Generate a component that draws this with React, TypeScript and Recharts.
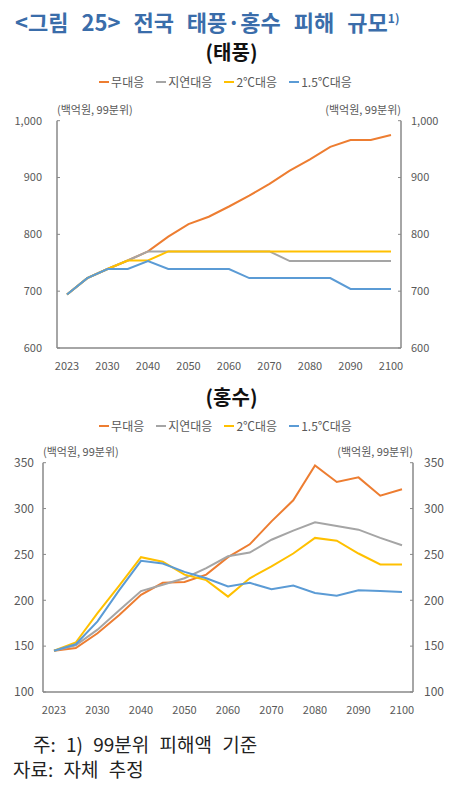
import React from 'react';
import { LineChart, Line, XAxis, YAxis, Legend } from 'recharts';

const FONT = "'Noto Sans CJK KR', 'Noto Sans', sans-serif";

// 연도 (카테고리)
const years = [
  '2023', '2025', '2030', '2035', '2040', '2045', '2050', '2055', '2060',
  '2065', '2070', '2075', '2080', '2085', '2090', '2095', '2100',
];

const seriesNames = ['무대응', '지연대응', '2℃대응', '1.5℃대응'];
const seriesColors = ['#ED7D31', '#A5A5A5', '#FFC000', '#5B9BD5'];

// 태풍
const typhoonNone = [694, 723, 739, 754, 770, 796, 818, 831, 849, 868, 889, 912, 932, 954, 966, 966, 975];
const typhoonDelayed = [694, 723, 739, 754, 770, 770, 770, 770, 770, 770, 770, 753, 753, 753, 753, 753, 753];
const typhoon2C = [694, 723, 739, 754, 754, 770, 770, 770, 770, 770, 770, 770, 770, 770, 770, 770, 770];
const typhoon15C = [694, 723, 739, 739, 753, 739, 739, 739, 739, 723, 723, 723, 723, 723, 704, 704, 704];
const typhoonTicks = [600, 700, 800, 900, 1000];

// 홍수
const floodNone = [145, 148, 164, 184, 206, 219, 220, 228, 247, 261, 286, 309, 347, 329, 334, 314, 321];
const floodDelayed = [145, 151, 168, 189, 210, 217, 224, 235, 248, 252, 266, 276, 285, 281, 277, 268, 260];
const flood2C = [145, 154, 186, 216, 247, 242, 228, 222, 204, 224, 237, 251, 268, 265, 251, 239, 239];
const flood15C = [145, 152, 177, 211, 243, 240, 231, 224, 215, 219, 212, 216, 208, 205, 211, 210, 209];
const floodTicks = [100, 150, 200, 250, 300, 350];

const toRows = (cols: number[][]) =>
  years.map((year, i) => ({ year, s0: cols[0][i], s1: cols[1][i], s2: cols[2][i], s3: cols[3][i] }));

const typhoonData = toRows([typhoonNone, typhoonDelayed, typhoon2C, typhoon15C]);
const floodData = toRows([floodNone, floodDelayed, flood2C, flood15C]);

const AXIS = '#898989';
const TEXT = '#595959';

// 범례: 계열 순서 그대로
function LegendRow() {
  return (
    <div style={{ display: 'flex', justifyContent: 'center', fontFamily: FONT, fontSize: 12, color: TEXT, lineHeight: '16px' }}>
      {seriesNames.map((name, i) => (
        <span key={name} style={{ display: 'flex', alignItems: 'center', marginRight: 12 }}>
          <span style={{ display: 'inline-block', width: 10, height: 2, background: seriesColors[i], marginRight: 2 }} />
          {name}
        </span>
      ))}
    </div>
  );
}

type PanelProps = {
  top: number;
  height: number;
  marginTop: number;
  leftW: number;
  rightW: number;
  pad: number;
  data: any[];
  ticks: number[];
  legendTop: number;
  yFont: number;
  leftMargin: number;
  rightMargin: number;
  fmt?: (v: number) => string;
};

function Panel(p: PanelProps) {
  const { top, height, marginTop, leftW, rightW, pad, data, ticks, legendTop, yFont, fmt } = p;
  const domain = [ticks[0], ticks[ticks.length - 1]];
  const tickStyle = { fontFamily: FONT, fontSize: yFont, fill: TEXT };
  return (
    <div style={{ position: 'absolute', left: 0, top }}>
      <LineChart width={463} height={height} data={data} margin={{ top: marginTop, right: 0, bottom: 0, left: 0 }}>
        <XAxis
          dataKey="year"
          interval={1}
          tickLine={false}
          tickSize={0}
          tickMargin={14}
          padding={{ left: pad, right: pad }}
          height={30}
          axisLine={{ stroke: AXIS, strokeWidth: 1.5 }}
          tick={{ fontFamily: FONT, fontSize: 11, fill: TEXT }}
        />
        <YAxis
          yAxisId="left"
          orientation="left"
          width={leftW}
          domain={domain}
          ticks={ticks}
          tickSize={-3}
          tickMargin={p.leftMargin}
          tickFormatter={fmt}
          axisLine={{ stroke: AXIS, strokeWidth: 1.5 }}
          tickLine={{ stroke: AXIS }}
          tick={tickStyle}
        />
        <YAxis
          yAxisId="right"
          orientation="right"
          width={rightW}
          domain={domain}
          ticks={ticks}
          tickSize={-3}
          tickMargin={p.rightMargin}
          tickFormatter={fmt}
          axisLine={{ stroke: AXIS, strokeWidth: 1.5 }}
          tickLine={{ stroke: AXIS }}
          tick={{ ...tickStyle, textAnchor: 'start' }}
        />
        <Legend
          layout="horizontal"
          verticalAlign="middle"
          align="center"
          content={LegendRow}
          wrapperStyle={{ top: legendTop }}
        />
        {seriesNames.map((name, i) => (
          <Line
            key={name}
            yAxisId="left"
            type="linear"
            dataKey={`s${i}`}
            name={name}
            stroke={seriesColors[i]}
            strokeWidth={2}
            dot={false}
            isAnimationActive={false}
          />
        ))}
        {/* 오른쪽 축 표시용 (보이지 않음) */}
        <Line
          yAxisId="right"
          dataKey="s0"
          stroke="none"
          dot={false}
          activeDot={false}
          legendType="none"
          isAnimationActive={false}
        />
      </LineChart>
    </div>
  );
}

const unit = '(백억원, 99분위)';
const abs = (s: React.CSSProperties): React.CSSProperties => ({ position: 'absolute', fontFamily: FONT, lineHeight: 1, whiteSpace: 'nowrap', ...s });

export default function App() {
  return (
    <div style={{ position: 'absolute', left: 0, top: 0, width: 463, height: 789, background: '#fff' }}>
      <div style={abs({ left: 15, top: 10, fontSize: 22, fontWeight: 700, color: '#3A6DAA', wordSpacing: 8 })}>
        &lt;그림 25&gt; 전국 태풍·홍수 피해 규모<sup style={{ fontSize: 12, lineHeight: 1, verticalAlign: 8 }}>1)</sup>
      </div>

      <div style={abs({ left: 0, width: 463, textAlign: 'center', top: 42, fontSize: 20, fontWeight: 700, color: '#111' })}>(태풍)</div>
      <Panel
        top={60}
        height={318}
        marginTop={60.7}
        leftW={57}
        rightW={62}
        pad={10}
        data={typhoonData}
        ticks={typhoonTicks}
        legendTop={14}
        yFont={11}
        leftMargin={18}
        rightMargin={13}
        fmt={(v) => v.toLocaleString('en-US')}
      />
      <div style={abs({ left: 57, top: 104, fontSize: 11, color: TEXT })}>{unit}</div>
      <div style={abs({ right: 62, top: 104, fontSize: 11, color: TEXT })}>{unit}</div>

      <div style={abs({ left: 0, width: 463, textAlign: 'center', top: 387, fontSize: 20, fontWeight: 700, color: '#111' })}>(홍수)</div>
      <Panel
        top={410}
        height={312}
        marginTop={52.7}
        leftW={43}
        rightW={50}
        pad={11}
        data={floodData}
        ticks={floodTicks}
        legendTop={8}
        yFont={12}
        leftMargin={12}
        rightMargin={14}
      />
      <div style={abs({ left: 43, top: 446, fontSize: 11, color: TEXT })}>{unit}</div>
      <div style={abs({ right: 50, top: 446, fontSize: 11, color: TEXT })}>{unit}</div>

      <div style={abs({ left: 33, top: 734, fontSize: 19, color: '#222', wordSpacing: 6 })}>주: 1) 99분위 피해액 기준</div>
      <div style={abs({ left: 13, top: 759, fontSize: 19, color: '#222', wordSpacing: 6 })}>자료: 자체 추정</div>
    </div>
  );
}
